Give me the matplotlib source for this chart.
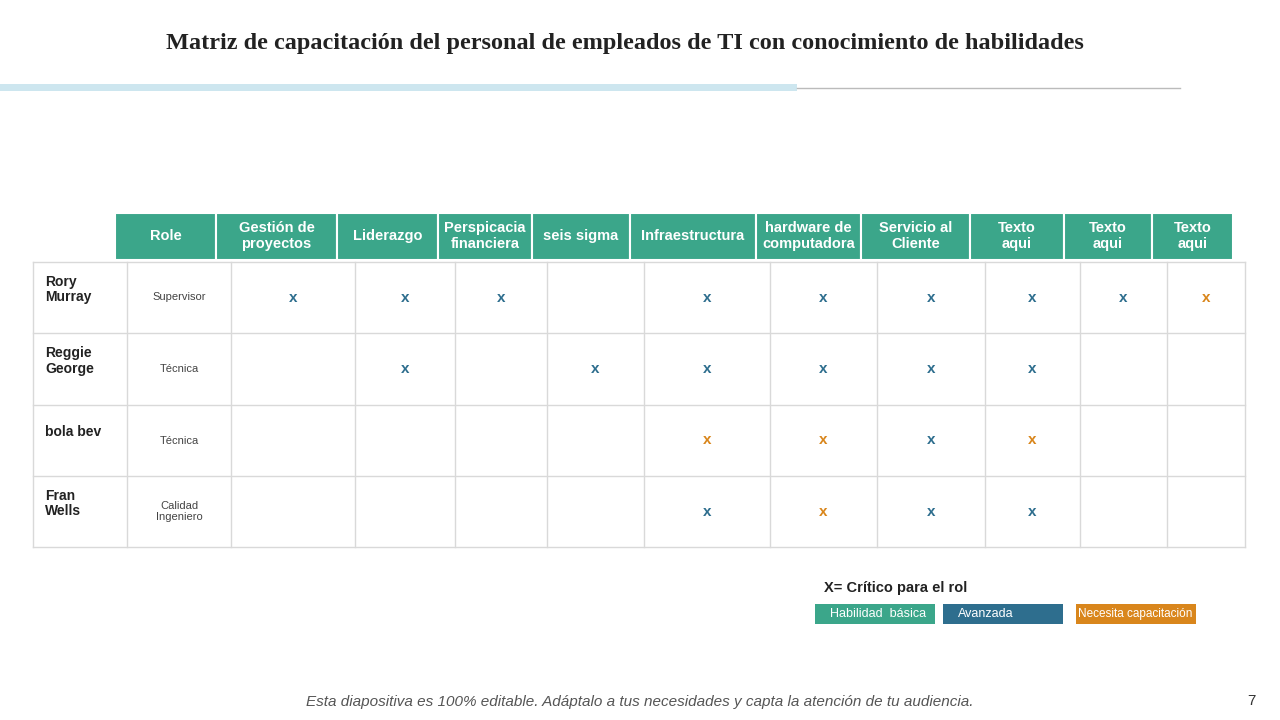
import matplotlib
matplotlib.use("Agg")
import matplotlib.pyplot as plt
from matplotlib.patches import Rectangle

title = "Matriz de capacitación del personal de empleados de TI con conocimiento de habilidades"
headers = ["Role", "Gestión de\nproyectos", "Liderazgo", "Perspicacia\nfinanciera", "seis sigma",
           "Infraestructura", "hardware de\ncomputadora", "Servicio al\nCliente", "Texto\naqui", "Texto\naqui", "Texto\naqui"]
names = ["Rory\nMurray", "Reggie\nGeorge", "bola bev", "Fran\nWells"]
roles = ["Supervisor", "Técnica", "Técnica", "Calidad\nIngeniero"]
# B = advanced (blue), O = needs training (orange), "" = none
marks = [
    ["B", "B", "B", "", "B", "B", "B", "B", "B", "O"],
    ["", "B", "", "B", "B", "B", "B", "B", "", ""],
    ["", "", "", "", "O", "O", "B", "O", "", ""],
    ["", "", "", "", "B", "O", "B", "B", "", ""],
]
legend_labels = ["Habilidad  básica", "Avanzada", "Necesita capacitación"]

TEAL, BLUE, ORANGE = "#3BA68A", "#2E6E8E", "#D9861C"
hdr_x = [115, 216, 337, 438, 532, 630, 756, 861, 970, 1064, 1152, 1233]
body_x = [33, 127, 231, 355, 455, 547, 644, 770, 877, 985, 1080, 1167, 1245]
body_y = [262, 333, 405, 476, 547]

fig = plt.figure(figsize=(12.8, 7.2), dpi=100)
ax = fig.add_axes([0, 0, 1, 1])
ax.set_xlim(0, 1280); ax.set_ylim(720, 0); ax.axis("off")

ax.text(625, 43, title, ha="center", va="center", family="Liberation Serif",
        weight="bold", fontsize=17.5, color="#222222")
ax.add_patch(Rectangle((0, 84), 797, 7, color="#CDE6EF", lw=0))
ax.plot([797, 1180], [87.5, 87.5], color="#BBBBBB", lw=1)

for i, h in enumerate(headers):
    x0, x1 = hdr_x[i], hdr_x[i + 1]
    ax.add_patch(Rectangle((x0, 213), x1 - x0, 47, facecolor=TEAL, edgecolor="white", lw=1.5))
    ax.text((x0 + x1) / 2, 236, h, ha="center", va="center", color="white",
            weight="bold", fontsize=10.5, family="Liberation Sans", linespacing=1.1)

gc = "#D9D9D9"
for x in body_x:
    ax.plot([x, x], [body_y[0], body_y[-1]], color=gc, lw=1)
for y in body_y:
    ax.plot([body_x[0], body_x[-1]], [y, y], color=gc, lw=1)

for r in range(len(names)):
    yc = (body_y[r] + body_y[r + 1]) / 2
    ax.text(45, yc - 8, names[r], ha="left", va="center", weight="bold", fontsize=10,
            family="Liberation Sans", color="#222222", linespacing=1.15)
    ax.text((body_x[1] + body_x[2]) / 2, yc, roles[r], ha="center", va="center",
            fontsize=8, family="Liberation Sans", color="#444444")
    for c, m in enumerate(marks[r]):
        if m:
            ax.text((body_x[c + 2] + body_x[c + 3]) / 2, yc, "x", ha="center", va="center",
                    fontsize=11, weight="bold", family="Liberation Sans",
                    color=BLUE if m == "B" else ORANGE)

ax.text(824, 588, "X= Crítico para el rol", ha="left", va="center", weight="bold",
        fontsize=10.5, family="Liberation Sans", color="#222222")
for (x0, x1), lab, col in zip([(815, 935), (943, 1063), (1076, 1196)], legend_labels, [TEAL, BLUE, ORANGE]):
    ax.add_patch(Rectangle((x0, 604), x1 - x0, 20, color=col, lw=0))
    ax.text(x0 + (15 if col != ORANGE else 2), 614, lab, ha="left", va="center",
            color="white", fontsize=9 if col != ORANGE else 8.5, family="Liberation Sans")

ax.text(640, 702, "Esta diapositiva es 100% editable. Adáptalo a tus necesidades y capta la atención de tu audiencia.",
        ha="center", va="center", style="italic", fontsize=11, family="Liberation Sans", color="#555555")
ax.text(1251, 701, "7", ha="center", va="center", fontsize=11, family="Liberation Sans", color="#333333")

fig.savefig("out.png", dpi=100)
